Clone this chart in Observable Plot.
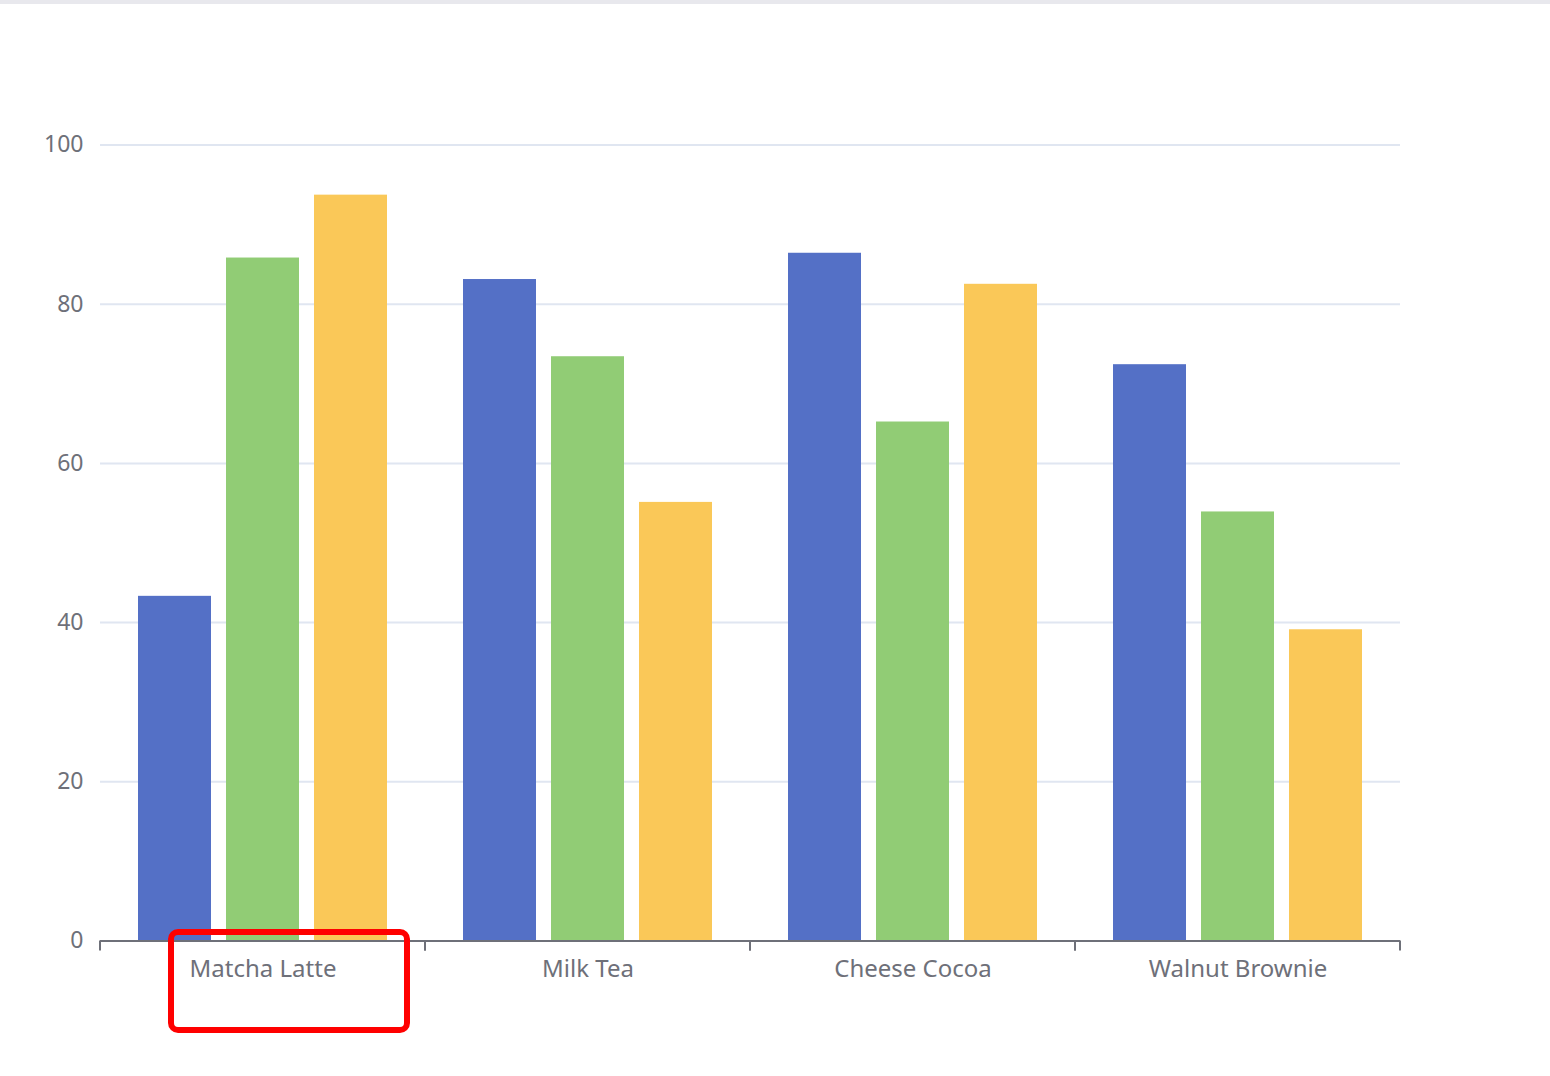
<!DOCTYPE html>
<html>
<head>
<meta charset="utf-8">
<script src="https://cdn.jsdelivr.net/npm/d3@7"></script>
<script src="https://cdn.jsdelivr.net/npm/@observablehq/plot@0.6"></script>
<style>
  html, body { margin: 0; padding: 0; background: #ffffff; overflow: hidden; }
  #wrap { position: relative; width: 1550px; height: 1076px; overflow: hidden; }
  #topstrip { position: absolute; left: 0; top: 0; width: 1550px; height: 4px; background: #e8e8ed; }
  #highlight { position: absolute; left: 168px; top: 929px; width: 242px; height: 104px;
    box-sizing: border-box; border: 6px solid #ff0000; border-radius: 10px; pointer-events: none; }
  svg { display: block; }
</style>
</head>
<body>
<div id="wrap">
  <div id="chart"></div>
  <div id="topstrip"></div>
  <div id="highlight"></div>
</div>
<script>
// ---- data ----
const categories = ["Matcha Latte", "Milk Tea", "Cheese Cocoa", "Walnut Brownie"];
const seriesNames = ["2015", "2016", "2017"];
const values2015 = [43.3, 83.1, 86.4, 72.4];
const values2016 = [85.8, 73.4, 65.2, 53.9];
const values2017 = [93.7, 55.1, 82.5, 39.1];
const yTicks = [0, 20, 40, 60, 80, 100];
const gridTicks = [20, 40, 60, 80, 100];

// ---- styles ----
const colors = ["#5470c6", "#91cc75", "#fac858"];
const textColor = "#6e7079";
const axisColor = "#6e7079";
const gridColor = "#e0e6f1";
const fontFamily = "'Noto Sans', 'Open Sans', Arial, sans-serif";

const seriesValues = [values2015, values2016, values2017];
const table = [];
categories.forEach((c, i) => {
  seriesNames.forEach((s, j) => {
    table.push({category: c, series: s, value: seriesValues[j][i]});
  });
});

// axis line at y = 0 in each facet, plus category boundary ticks at the facet edges
const baseAxis = Plot.ruleY([0], {
  stroke: axisColor,
  strokeWidth: 2,
  render: (index, scales, values, dimensions, context, next) => {
    const g = d3.create("svg:g");
    const base = next(index, scales, values, dimensions, context);
    if (base) g.node().appendChild(base);
    const y0 = scales.y(0);
    const xs = scales.x.range();
    g.selectAll("line.tick").data(xs).join("line")
      .attr("class", "tick")
      .attr("x1", d => d).attr("x2", d => d)
      .attr("y1", y0).attr("y2", y0 + 10)
      .attr("stroke", axisColor).attr("stroke-width", 2);
    return g.node();
  }
});

const plot = Plot.plot({
  width: 1550,
  height: 1076,
  marginLeft: 99,
  marginRight: 149,
  marginTop: 144.5,
  marginBottom: 135.5,
  style: {fontFamily, fontSize: "24px", background: "transparent"},
  fx: {domain: categories, padding: 0, label: null},
  x: {domain: seriesNames, paddingInner: 15 / 89, paddingOuter: 0.413, axis: null},
  y: {domain: [0, 100], axis: null},
  color: {domain: seriesNames, range: colors},
  marks: [
    Plot.ruleY(gridTicks, {stroke: gridColor, strokeWidth: 2}),
    Plot.axisY(yTicks, {tickSize: 0, tickPadding: 17, fontSize: 23, fill: textColor, label: null}),
    Plot.barY(table, {fx: "category", x: "series", y: "value", fill: "series"}),
    baseAxis,
    Plot.axisFx({anchor: "bottom", tickSize: 0, tickPadding: 18.5, fontSize: 24, fill: textColor, label: null})
  ]
});
document.getElementById("chart").appendChild(plot);
</script>
</body>
</html>
